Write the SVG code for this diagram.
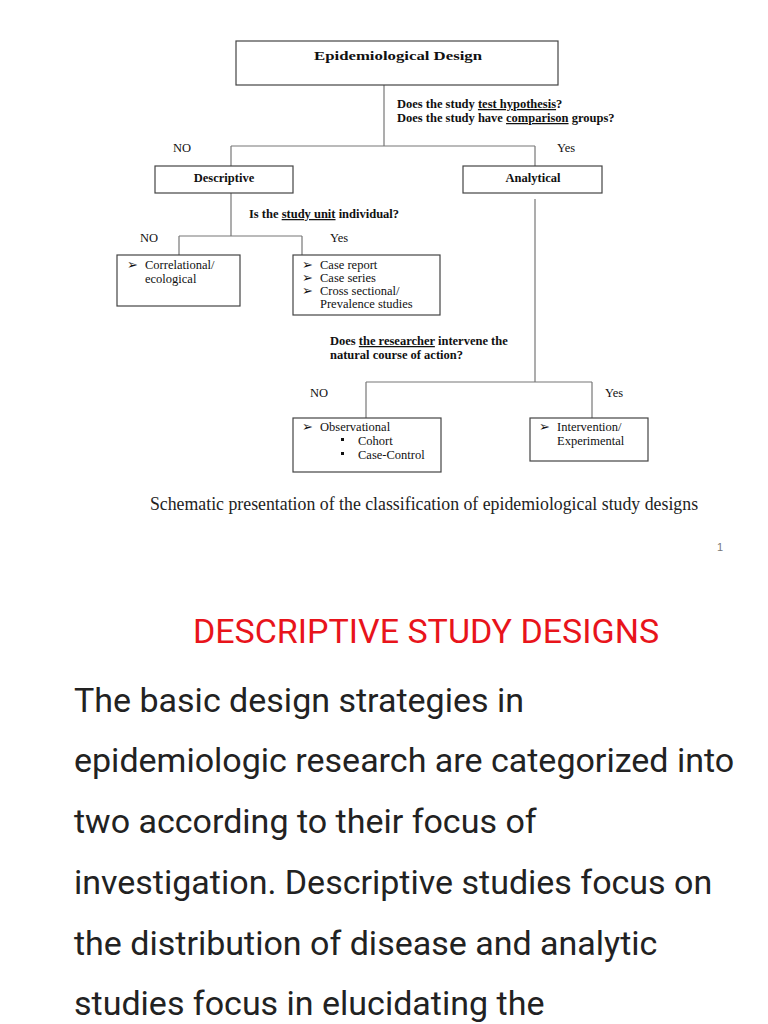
<svg xmlns="http://www.w3.org/2000/svg" width="768" height="1024" viewBox="0 0 768 1024">
<style>
.b{fill:#fff;stroke:#444;stroke-width:1.2}
.c{fill:none;stroke:#777;stroke-width:1.2}
.t{font-family:"Liberation Serif",serif;font-size:12.5px;fill:#111}
.bd{font-weight:bold}
</style>
<rect width="768" height="1024" fill="#fff"/>
<g id="connectors">
<path class="c" d="M384 85V146M231 146H535M231 146V166M535 146V166"/>
<path class="c" d="M231 193V236M179 236H302M179 236V255M302 236V255" stroke="#333"/>
<path class="c" d="M535 199V382M366 382H592M366 382V418M592 382V418"/>
</g>
<g id="n-root"><rect class="b" x="236" y="41" width="322" height="44"/><text class="t bd" x="314" y="60" font-size="15" textLength="168" lengthAdjust="spacingAndGlyphs">Epidemiological Design</text></g>
<g id="q1"><text class="t bd" x="397" y="108">Does the study <tspan text-decoration="underline">test hypothesis</tspan>?</text><text class="t bd" x="397" y="122">Does the study have <tspan text-decoration="underline">comparison</tspan> groups?</text></g>
<text class="t" x="173" y="152">NO</text><text class="t" x="557" y="152">Yes</text>
<g id="n-desc"><rect class="b" x="155" y="166" width="138" height="27"/><text class="t bd" x="224" y="182" text-anchor="middle">Descriptive</text></g>
<g id="n-anal"><rect class="b" x="463" y="166" width="139" height="27"/><text class="t bd" x="533" y="182" text-anchor="middle">Analytical</text></g>
<g id="q2"><text class="t bd" x="249" y="218">Is the <tspan text-decoration="underline">study unit</tspan> individual?</text></g>
<text class="t" x="140" y="242">NO</text><text class="t" x="330" y="242">Yes</text>
<g id="n-corr"><rect class="b" x="117" y="255" width="123" height="51"/><text class="t" x="127" y="269">➢</text><text class="t" x="145" y="269">Correlational/</text><text class="t" x="145" y="283">ecological</text></g>
<g id="n-case"><rect class="b" x="293" y="255" width="147" height="60"/>
<text class="t" x="302" y="269">➢</text><text class="t" x="320" y="269">Case report</text>
<text class="t" x="302" y="282">➢</text><text class="t" x="320" y="282">Case series</text>
<text class="t" x="302" y="295">➢</text><text class="t" x="320" y="295">Cross sectional/</text>
<text class="t" x="320" y="308">Prevalence studies</text></g>
<g id="q3"><text class="t bd" x="330" y="345">Does <tspan text-decoration="underline">the researcher</tspan> intervene the</text><text class="t bd" x="330" y="359">natural course of action?</text></g>
<text class="t" x="310" y="397">NO</text><text class="t" x="605" y="397">Yes</text>
<g id="n-obs"><rect class="b" x="293" y="418" width="148" height="54"/>
<text class="t" x="302" y="431">➢</text><text class="t" x="320" y="431">Observational</text>
<rect x="341" y="438" width="3" height="3" fill="#111"/><text class="t" x="358" y="445">Cohort</text>
<rect x="341" y="452" width="3" height="3" fill="#111"/><text class="t" x="358" y="459">Case-Control</text></g>
<g id="n-int"><rect class="b" x="530" y="418" width="118" height="43"/>
<text class="t" x="539" y="431">➢</text><text class="t" x="557" y="431">Intervention/</text><text class="t" x="557" y="445">Experimental</text></g>
<text x="424" y="510" text-anchor="middle" font-family="Liberation Serif,serif" font-size="17.8" fill="#222">Schematic presentation of the classification of epidemiological study designs</text>
<text x="717" y="551" font-family="Liberation Sans,sans-serif" font-size="11" fill="#777">1</text>
<text x="426" y="643" text-anchor="middle" font-family="Roboto,sans-serif" font-size="34" fill="#e8141b">DESCRIPTIVE STUDY DESIGNS</text>
<g font-family="Roboto,sans-serif" font-size="34" fill="#222">
<text x="74" y="712">The basic design strategies in</text>
<text x="74" y="772">epidemiologic research are categorized into</text>
<text x="74" y="833">two according to their focus of</text>
<text x="74" y="894">investigation. Descriptive studies focus on</text>
<text x="74" y="955">the distribution of disease and analytic</text>
<text x="74" y="1015">studies focus in elucidating the</text>
</g>
</svg>
